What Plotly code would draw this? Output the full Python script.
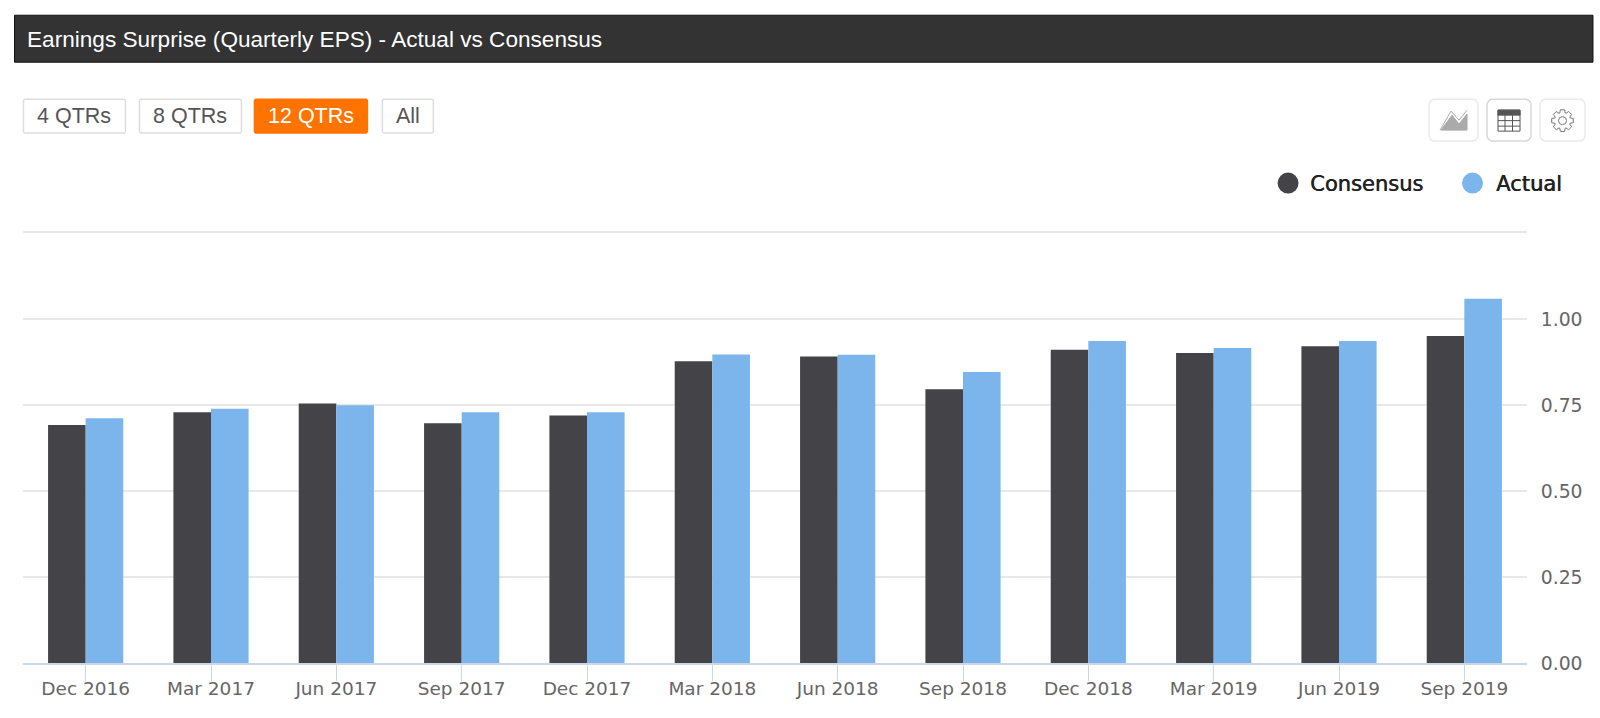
import math
import plotly.graph_objects as go

categories = ["Dec 2016", "Mar 2017", "Jun 2017", "Sep 2017", "Dec 2017", "Mar 2018",
              "Jun 2018", "Sep 2018", "Dec 2018", "Mar 2019", "Jun 2019", "Sep 2019"]
consensus = [0.693, 0.73, 0.755, 0.698, 0.72, 0.878, 0.892, 0.797, 0.912, 0.902, 0.922, 0.952]
actual = [0.712, 0.74, 0.75, 0.73, 0.73, 0.898, 0.897, 0.847, 0.937, 0.917, 0.937, 1.06]
y_ticks = [0, 0.25, 0.5, 0.75, 1.0, 1.2552]
y_labels = ["0.00", "0.25", "0.50", "0.75", "1.00", ""]
title_text = "Earnings Surprise (Quarterly EPS) - Actual vs Consensus"
buttons = ["4 QTRs", "8 QTRs", "12 QTRs", "All"]
series_names = ["Consensus", "Actual"]
series_colors = ["#434348", "#7cb5ec"]

W, H = 1600, 718
L, R, T, B = 22.5, 1527, 228, 663.5


def px(x):
    return (x - L) / (R - L)


def py(y):
    return (B - y) / (B - T)


def rect(x0, y0, x1, y1, fill, line=None, lw=1):
    return dict(type="rect", xref="paper", yref="paper", x0=px(x0), x1=px(x1), y0=py(y1), y1=py(y0),
                fillcolor=fill, line=dict(color=line or fill, width=lw), layer="above")


def poly(pts, fill, line=None, lw=1):
    d = "M " + " L ".join(f"{px(a)},{py(b)}" for a, b in pts) + " Z"
    return dict(type="path", xref="paper", yref="paper", path=d, fillcolor=fill,
                line=dict(color=line or fill, width=lw), layer="above")


def rrect(x0, y0, x1, y1, r, fill, line=None, lw=1):
    pts = []
    corners = [(x1 - r, y0 + r, -90), (x1 - r, y1 - r, 0), (x0 + r, y1 - r, 90), (x0 + r, y0 + r, 180)]
    for cx, cy, a in corners:
        for k in range(0, 7):
            t = math.radians(a + k * 15)
            pts.append((cx + r * math.cos(t), cy + r * math.sin(t)))
    return poly(pts, fill, line or fill, lw)


fig = go.Figure()
fig.add_bar(x=categories, y=consensus, name=series_names[0], marker=dict(color=series_colors[0], line=dict(width=0)), showlegend=False)
fig.add_bar(x=categories, y=actual, name=series_names[1], marker=dict(color=series_colors[1], line=dict(width=0)), showlegend=False)

shapes = [rect(14, 15, 1593, 62, "#333333", "#111111", 1)]
btn_boxes = [(23, 99, 125, 133), (139, 99, 241, 133), (254, 99, 367, 133), (382, 99, 433, 133)]
annotations = [dict(text=title_text, xref="paper", yref="paper", x=px(25), y=py(39.5), xanchor="left", yanchor="middle",
                    showarrow=False, font=dict(family="Liberation Sans", size=22.6, color="#ffffff"))]
for i, (label, box) in enumerate(zip(buttons, btn_boxes)):
    active = i == 2
    shapes.append(rrect(*box, 2, "#ff7300" if active else "#ffffff", "#ff7300" if active else "#dddddd", 1.5))
    annotations.append(dict(text=label, xref="paper", yref="paper", x=px((box[0] + box[2]) / 2), y=py(116), xanchor="center",
                            yanchor="middle", showarrow=False,
                            font=dict(family="Liberation Sans", size=21.5, color="#ffffff" if active else "#555555")))

# legend
for name, color, cx, tx in zip(series_names, series_colors, (1288, 1472.5), (1308, 1494)):
    shapes.append(dict(type="circle", xref="paper", yref="paper", x0=px(cx - 10.5), x1=px(cx + 10.5),
                       y0=py(183 + 10.5), y1=py(183 - 10.5), fillcolor=color, line=dict(width=0), layer="above"))
    annotations.append(dict(text=name, xref="paper", yref="paper", x=px(tx), y=py(183.5), xanchor="left", yanchor="middle",
                            showarrow=False,
                            font=dict(family="DejaVu Sans", size=21, color="#222222", shadow="0.6px 0 0 #222222")))

# toolbar icons
shapes.append(rrect(1429, 99, 1478, 141, 6, "#ffffff", "#eaeaea", 1.5))
shapes.append(rrect(1487, 99, 1531, 141, 6, "#ffffff", "#d8d8d8", 1.5))
shapes.append(rrect(1540, 99, 1585, 141, 6, "#ffffff", "#eaeaea", 1.5))
shapes.append(poly([(1441, 130), (1452, 115), (1459, 124), (1467, 114), (1467, 130)], "#aaaaaa"))
shapes.append(dict(type="path", xref="paper", yref="paper",
                   path="M {},{} L {},{} L {},{} L {},{}".format(px(1440), py(130), px(1451), py(111), px(1459), py(120), px(1467), py(110)),
                   line=dict(color="#aaaaaa", width=1), layer="above"))
shapes.append(rect(1498, 110, 1520, 131, "#ffffff", "#555555", 1))
shapes.append(rect(1498, 110, 1520, 115, "#555555"))
for xv in (1505, 1512.5):
    shapes.append(dict(type="line", xref="paper", yref="paper", x0=px(xv), x1=px(xv), y0=py(115), y1=py(131), line=dict(color="#555555", width=1), layer="above"))
for yv in (120.5, 126):
    shapes.append(dict(type="line", xref="paper", yref="paper", x0=px(1498), x1=px(1520), y0=py(yv), y1=py(yv), line=dict(color="#555555", width=1), layer="above"))
gear = []
cx, cy = 1562.5, 120.5
for k in range(8):
    a = k * 45
    for da, rad in ((-20, 8), (-11, 11), (11, 11), (20, 8)):
        t = math.radians(a + da)
        gear.append((cx + rad * math.cos(t), cy + rad * math.sin(t)))
shapes.append(poly(gear, "#ffffff", "#777777", 1))
shapes.append(dict(type="circle", xref="paper", yref="paper", x0=px(cx - 4), x1=px(cx + 4), y0=py(cy + 4), y1=py(cy - 4),
                   fillcolor="#ffffff", line=dict(color="#777777", width=1), layer="above"))

fig.update_layout(
    width=W, height=H, autosize=False,
    margin=dict(l=L, r=W - R, t=T, b=H - B, pad=0),
    paper_bgcolor="#ffffff", plot_bgcolor="#ffffff",
    barmode="group", bargap=0.4, bargroupgap=0,
    shapes=shapes, annotations=annotations, showlegend=False,
    font=dict(family="DejaVu Sans", color="#666666"),
    xaxis=dict(type="category", categoryorder="array", categoryarray=categories, ticks="outside", ticklen=16, tickwidth=1,
               tickcolor="#ccd6eb", showline=True, linecolor="#ccd6eb", linewidth=1.5, showgrid=False, zeroline=False,
               tickfont=dict(size=18.5, color="#666666"), tickangle=0, range=[-0.5, 11.5], ticklabelstandoff=-8),
    yaxis=dict(side="right", range=[0, 1.266], tickvals=y_ticks, ticktext=y_labels, ticks="outside", ticklen=9,
               tickcolor="rgba(0,0,0,0)", gridcolor="#e8e8e8", gridwidth=1.5, zeroline=False, showline=False,
               tickfont=dict(size=18.8, color="#666666")),
)
fig.write_html("out.html", post_script="document.body.style.margin='0';", config=dict(displayModeBar=False))
